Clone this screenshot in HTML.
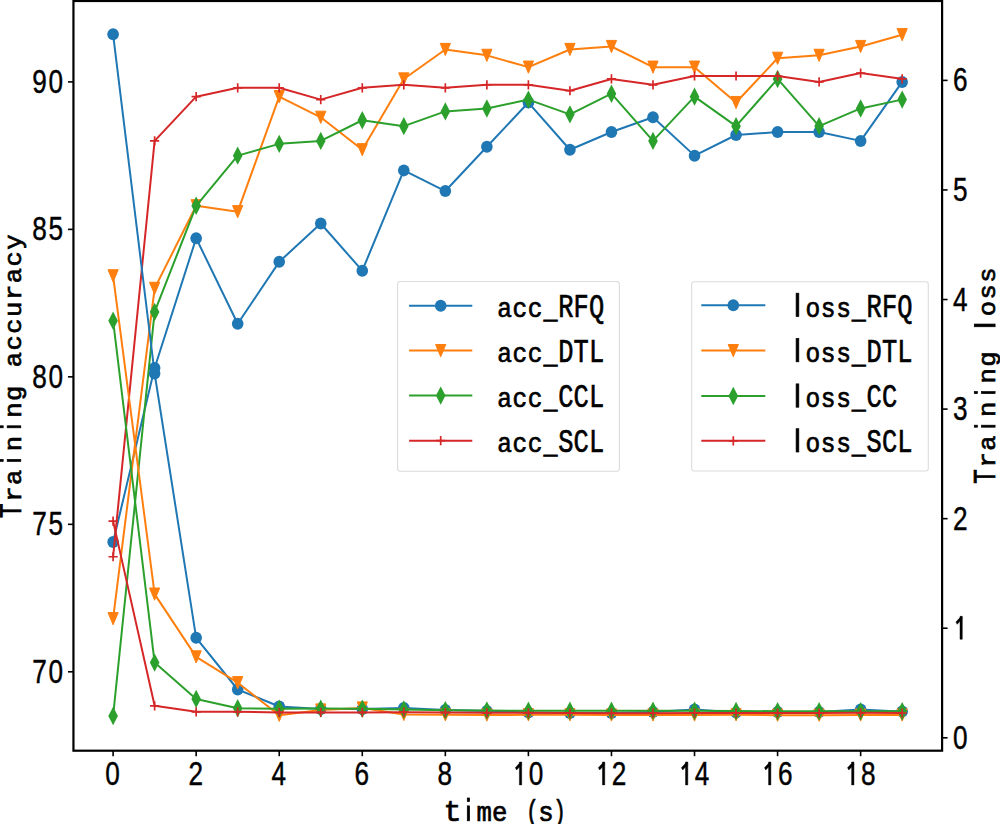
<!DOCTYPE html>
<html><head><meta charset="utf-8"><title>Training accuracy and loss</title>
<style>html,body{margin:0;padding:0;background:#fff;overflow:hidden}svg{display:block}</style>
</head><body>
<svg width="1000" height="824" viewBox="0 0 1000 824">
<rect width="1000" height="824" fill="#fff"/>
<defs><clipPath id="ax"><rect x="73.45" y="1.0" width="868.65" height="749.70"/></clipPath></defs>
<g clip-path="url(#ax)">
<path d="M113.10,542.02L154.63,368.00L196.16,238.22L237.69,323.76L279.22,261.82L320.75,223.48L362.28,270.67L403.81,170.38L445.34,191.03L486.87,146.79L528.40,102.55L569.93,149.74L611.46,132.04L652.99,117.29L694.52,155.64L736.05,134.99L777.58,132.04L819.11,132.04L860.64,140.89L902.17,81.90" stroke="#1f77b4" stroke-width="2.0" fill="none" stroke-linejoin="round" stroke-linecap="square"/><ellipse cx="113.10" cy="542.02" rx="5.8" ry="6.0" fill="#1f77b4"/><ellipse cx="154.63" cy="368.00" rx="5.8" ry="6.0" fill="#1f77b4"/><ellipse cx="196.16" cy="238.22" rx="5.8" ry="6.0" fill="#1f77b4"/><ellipse cx="237.69" cy="323.76" rx="5.8" ry="6.0" fill="#1f77b4"/><ellipse cx="279.22" cy="261.82" rx="5.8" ry="6.0" fill="#1f77b4"/><ellipse cx="320.75" cy="223.48" rx="5.8" ry="6.0" fill="#1f77b4"/><ellipse cx="362.28" cy="270.67" rx="5.8" ry="6.0" fill="#1f77b4"/><ellipse cx="403.81" cy="170.38" rx="5.8" ry="6.0" fill="#1f77b4"/><ellipse cx="445.34" cy="191.03" rx="5.8" ry="6.0" fill="#1f77b4"/><ellipse cx="486.87" cy="146.79" rx="5.8" ry="6.0" fill="#1f77b4"/><ellipse cx="528.40" cy="102.55" rx="5.8" ry="6.0" fill="#1f77b4"/><ellipse cx="569.93" cy="149.74" rx="5.8" ry="6.0" fill="#1f77b4"/><ellipse cx="611.46" cy="132.04" rx="5.8" ry="6.0" fill="#1f77b4"/><ellipse cx="652.99" cy="117.29" rx="5.8" ry="6.0" fill="#1f77b4"/><ellipse cx="694.52" cy="155.64" rx="5.8" ry="6.0" fill="#1f77b4"/><ellipse cx="736.05" cy="134.99" rx="5.8" ry="6.0" fill="#1f77b4"/><ellipse cx="777.58" cy="132.04" rx="5.8" ry="6.0" fill="#1f77b4"/><ellipse cx="819.11" cy="132.04" rx="5.8" ry="6.0" fill="#1f77b4"/><ellipse cx="860.64" cy="140.89" rx="5.8" ry="6.0" fill="#1f77b4"/><ellipse cx="902.17" cy="81.90" rx="5.8" ry="6.0" fill="#1f77b4"/><path d="M113.10,618.71L154.63,288.37L196.16,205.78L237.69,211.68L279.22,96.65L320.75,117.29L362.28,149.74L403.81,78.95L445.34,49.46L486.87,55.35L528.40,67.15L569.93,49.46L611.46,46.51L652.99,67.15L694.52,67.15L736.05,102.55L777.58,58.30L819.11,55.35L860.64,46.51L902.17,34.71" stroke="#ff7f0e" stroke-width="2.0" fill="none" stroke-linejoin="round" stroke-linecap="square"/><path d="M108.00,612.61L118.20,612.61L113.10,624.81Z" fill="#ff7f0e" stroke="#ff7f0e" stroke-width="1" stroke-linejoin="miter"/><path d="M149.53,282.26L159.73,282.26L154.63,294.47Z" fill="#ff7f0e" stroke="#ff7f0e" stroke-width="1" stroke-linejoin="miter"/><path d="M191.06,199.68L201.26,199.68L196.16,211.88Z" fill="#ff7f0e" stroke="#ff7f0e" stroke-width="1" stroke-linejoin="miter"/><path d="M232.59,205.58L242.79,205.58L237.69,217.78Z" fill="#ff7f0e" stroke="#ff7f0e" stroke-width="1" stroke-linejoin="miter"/><path d="M274.12,90.55L284.32,90.55L279.22,102.75Z" fill="#ff7f0e" stroke="#ff7f0e" stroke-width="1" stroke-linejoin="miter"/><path d="M315.65,111.19L325.85,111.19L320.75,123.39Z" fill="#ff7f0e" stroke="#ff7f0e" stroke-width="1" stroke-linejoin="miter"/><path d="M357.18,143.64L367.38,143.64L362.28,155.84Z" fill="#ff7f0e" stroke="#ff7f0e" stroke-width="1" stroke-linejoin="miter"/><path d="M398.71,72.85L408.91,72.85L403.81,85.05Z" fill="#ff7f0e" stroke="#ff7f0e" stroke-width="1" stroke-linejoin="miter"/><path d="M440.24,43.36L450.44,43.36L445.34,55.56Z" fill="#ff7f0e" stroke="#ff7f0e" stroke-width="1" stroke-linejoin="miter"/><path d="M481.77,49.25L491.97,49.25L486.87,61.45Z" fill="#ff7f0e" stroke="#ff7f0e" stroke-width="1" stroke-linejoin="miter"/><path d="M523.30,61.05L533.50,61.05L528.40,73.25Z" fill="#ff7f0e" stroke="#ff7f0e" stroke-width="1" stroke-linejoin="miter"/><path d="M564.83,43.36L575.03,43.36L569.93,55.56Z" fill="#ff7f0e" stroke="#ff7f0e" stroke-width="1" stroke-linejoin="miter"/><path d="M606.36,40.41L616.56,40.41L611.46,52.61Z" fill="#ff7f0e" stroke="#ff7f0e" stroke-width="1" stroke-linejoin="miter"/><path d="M647.89,61.05L658.09,61.05L652.99,73.25Z" fill="#ff7f0e" stroke="#ff7f0e" stroke-width="1" stroke-linejoin="miter"/><path d="M689.42,61.05L699.62,61.05L694.52,73.25Z" fill="#ff7f0e" stroke="#ff7f0e" stroke-width="1" stroke-linejoin="miter"/><path d="M730.95,96.45L741.15,96.45L736.05,108.65Z" fill="#ff7f0e" stroke="#ff7f0e" stroke-width="1" stroke-linejoin="miter"/><path d="M772.48,52.20L782.68,52.20L777.58,64.40Z" fill="#ff7f0e" stroke="#ff7f0e" stroke-width="1" stroke-linejoin="miter"/><path d="M814.01,49.25L824.21,49.25L819.11,61.45Z" fill="#ff7f0e" stroke="#ff7f0e" stroke-width="1" stroke-linejoin="miter"/><path d="M855.54,40.41L865.74,40.41L860.64,52.61Z" fill="#ff7f0e" stroke="#ff7f0e" stroke-width="1" stroke-linejoin="miter"/><path d="M897.07,28.61L907.27,28.61L902.17,40.81Z" fill="#ff7f0e" stroke="#ff7f0e" stroke-width="1" stroke-linejoin="miter"/><path d="M113.10,716.04L154.63,311.96L196.16,205.78L237.69,155.64L279.22,143.84L320.75,140.89L362.28,120.24L403.81,126.14L445.34,111.40L486.87,108.45L528.40,99.60L569.93,114.34L611.46,93.70L652.99,140.89L694.52,96.65L736.05,126.14L777.58,78.95L819.11,126.14L860.64,108.45L902.17,99.60" stroke="#2ca02c" stroke-width="2.0" fill="none" stroke-linejoin="round" stroke-linecap="square"/><path d="M113.10,706.84L117.90,716.04L113.10,725.24L108.30,716.04Z" fill="#2ca02c"/><path d="M154.63,302.76L159.43,311.96L154.63,321.16L149.83,311.96Z" fill="#2ca02c"/><path d="M196.16,196.58L200.96,205.78L196.16,214.98L191.36,205.78Z" fill="#2ca02c"/><path d="M237.69,146.44L242.49,155.64L237.69,164.84L232.89,155.64Z" fill="#2ca02c"/><path d="M279.22,134.64L284.02,143.84L279.22,153.04L274.42,143.84Z" fill="#2ca02c"/><path d="M320.75,131.69L325.55,140.89L320.75,150.09L315.95,140.89Z" fill="#2ca02c"/><path d="M362.28,111.04L367.08,120.24L362.28,129.44L357.48,120.24Z" fill="#2ca02c"/><path d="M403.81,116.94L408.61,126.14L403.81,135.34L399.01,126.14Z" fill="#2ca02c"/><path d="M445.34,102.20L450.14,111.40L445.34,120.60L440.54,111.40Z" fill="#2ca02c"/><path d="M486.87,99.25L491.67,108.45L486.87,117.65L482.07,108.45Z" fill="#2ca02c"/><path d="M528.40,90.40L533.20,99.60L528.40,108.80L523.60,99.60Z" fill="#2ca02c"/><path d="M569.93,105.14L574.73,114.34L569.93,123.54L565.13,114.34Z" fill="#2ca02c"/><path d="M611.46,84.50L616.26,93.70L611.46,102.90L606.66,93.70Z" fill="#2ca02c"/><path d="M652.99,131.69L657.79,140.89L652.99,150.09L648.19,140.89Z" fill="#2ca02c"/><path d="M694.52,87.45L699.32,96.65L694.52,105.85L689.72,96.65Z" fill="#2ca02c"/><path d="M736.05,116.94L740.85,126.14L736.05,135.34L731.25,126.14Z" fill="#2ca02c"/><path d="M777.58,69.75L782.38,78.95L777.58,88.15L772.78,78.95Z" fill="#2ca02c"/><path d="M819.11,116.94L823.91,126.14L819.11,135.34L814.31,126.14Z" fill="#2ca02c"/><path d="M860.64,99.25L865.44,108.45L860.64,117.65L855.84,108.45Z" fill="#2ca02c"/><path d="M902.17,90.40L906.97,99.60L902.17,108.80L897.37,99.60Z" fill="#2ca02c"/><path d="M113.10,556.77L154.63,140.89L196.16,96.65L237.69,87.80L279.22,87.80L320.75,99.60L362.28,87.80L403.81,84.85L445.34,87.80L486.87,84.85L528.40,84.85L569.93,90.75L611.46,78.95L652.99,84.85L694.52,76.00L736.05,76.00L777.58,76.00L819.11,81.90L860.64,73.05L902.17,78.95" stroke="#d62728" stroke-width="2.0" fill="none" stroke-linejoin="round" stroke-linecap="square"/><path d="M108.50,556.77H117.70M113.10,552.17V561.37" stroke="#d62728" stroke-width="1.7" fill="none"/><path d="M150.03,140.89H159.23M154.63,136.29V145.49" stroke="#d62728" stroke-width="1.7" fill="none"/><path d="M191.56,96.65H200.76M196.16,92.05V101.25" stroke="#d62728" stroke-width="1.7" fill="none"/><path d="M233.09,87.80H242.29M237.69,83.20V92.40" stroke="#d62728" stroke-width="1.7" fill="none"/><path d="M274.62,87.80H283.82M279.22,83.20V92.40" stroke="#d62728" stroke-width="1.7" fill="none"/><path d="M316.15,99.60H325.35M320.75,95.00V104.20" stroke="#d62728" stroke-width="1.7" fill="none"/><path d="M357.68,87.80H366.88M362.28,83.20V92.40" stroke="#d62728" stroke-width="1.7" fill="none"/><path d="M399.21,84.85H408.41M403.81,80.25V89.45" stroke="#d62728" stroke-width="1.7" fill="none"/><path d="M440.74,87.80H449.94M445.34,83.20V92.40" stroke="#d62728" stroke-width="1.7" fill="none"/><path d="M482.27,84.85H491.47M486.87,80.25V89.45" stroke="#d62728" stroke-width="1.7" fill="none"/><path d="M523.80,84.85H533.00M528.40,80.25V89.45" stroke="#d62728" stroke-width="1.7" fill="none"/><path d="M565.33,90.75H574.53M569.93,86.15V95.35" stroke="#d62728" stroke-width="1.7" fill="none"/><path d="M606.86,78.95H616.06M611.46,74.35V83.55" stroke="#d62728" stroke-width="1.7" fill="none"/><path d="M648.39,84.85H657.59M652.99,80.25V89.45" stroke="#d62728" stroke-width="1.7" fill="none"/><path d="M689.92,76.00H699.12M694.52,71.40V80.60" stroke="#d62728" stroke-width="1.7" fill="none"/><path d="M731.45,76.00H740.65M736.05,71.40V80.60" stroke="#d62728" stroke-width="1.7" fill="none"/><path d="M772.98,76.00H782.18M777.58,71.40V80.60" stroke="#d62728" stroke-width="1.7" fill="none"/><path d="M814.51,81.90H823.71M819.11,77.30V86.50" stroke="#d62728" stroke-width="1.7" fill="none"/><path d="M856.04,73.05H865.24M860.64,68.45V77.65" stroke="#d62728" stroke-width="1.7" fill="none"/><path d="M897.57,78.95H906.77M902.17,74.35V83.55" stroke="#d62728" stroke-width="1.7" fill="none"/><path d="M113.10,34.30L154.63,373.50L196.16,637.80L237.69,689.50L279.22,706.50L320.75,709.00L362.28,709.00L403.81,708.00L445.34,710.00L486.87,711.00L528.40,712.50L569.93,713.00L611.46,713.00L652.99,712.00L694.52,709.50L736.05,712.50L777.58,712.00L819.11,712.00L860.64,709.50L902.17,711.60" stroke="#1f77b4" stroke-width="2.0" fill="none" stroke-linejoin="round" stroke-linecap="square"/><ellipse cx="113.10" cy="34.30" rx="5.8" ry="6.0" fill="#1f77b4"/><ellipse cx="154.63" cy="373.50" rx="5.8" ry="6.0" fill="#1f77b4"/><ellipse cx="196.16" cy="637.80" rx="5.8" ry="6.0" fill="#1f77b4"/><ellipse cx="237.69" cy="689.50" rx="5.8" ry="6.0" fill="#1f77b4"/><ellipse cx="279.22" cy="706.50" rx="5.8" ry="6.0" fill="#1f77b4"/><ellipse cx="320.75" cy="709.00" rx="5.8" ry="6.0" fill="#1f77b4"/><ellipse cx="362.28" cy="709.00" rx="5.8" ry="6.0" fill="#1f77b4"/><ellipse cx="403.81" cy="708.00" rx="5.8" ry="6.0" fill="#1f77b4"/><ellipse cx="445.34" cy="710.00" rx="5.8" ry="6.0" fill="#1f77b4"/><ellipse cx="486.87" cy="711.00" rx="5.8" ry="6.0" fill="#1f77b4"/><ellipse cx="528.40" cy="712.50" rx="5.8" ry="6.0" fill="#1f77b4"/><ellipse cx="569.93" cy="713.00" rx="5.8" ry="6.0" fill="#1f77b4"/><ellipse cx="611.46" cy="713.00" rx="5.8" ry="6.0" fill="#1f77b4"/><ellipse cx="652.99" cy="712.00" rx="5.8" ry="6.0" fill="#1f77b4"/><ellipse cx="694.52" cy="709.50" rx="5.8" ry="6.0" fill="#1f77b4"/><ellipse cx="736.05" cy="712.50" rx="5.8" ry="6.0" fill="#1f77b4"/><ellipse cx="777.58" cy="712.00" rx="5.8" ry="6.0" fill="#1f77b4"/><ellipse cx="819.11" cy="712.00" rx="5.8" ry="6.0" fill="#1f77b4"/><ellipse cx="860.64" cy="709.50" rx="5.8" ry="6.0" fill="#1f77b4"/><ellipse cx="902.17" cy="711.60" rx="5.8" ry="6.0" fill="#1f77b4"/><path d="M113.10,275.80L154.63,594.10L196.16,656.90L237.69,682.70L279.22,715.30L320.75,710.00L362.28,708.00L403.81,714.50L445.34,714.80L486.87,715.00L528.40,714.80L569.93,714.80L611.46,715.00L652.99,715.00L694.52,715.00L736.05,714.80L777.58,715.20L819.11,715.20L860.64,715.00L902.17,715.00" stroke="#ff7f0e" stroke-width="2.0" fill="none" stroke-linejoin="round" stroke-linecap="square"/><path d="M108.00,269.70L118.20,269.70L113.10,281.90Z" fill="#ff7f0e" stroke="#ff7f0e" stroke-width="1" stroke-linejoin="miter"/><path d="M149.53,588.00L159.73,588.00L154.63,600.20Z" fill="#ff7f0e" stroke="#ff7f0e" stroke-width="1" stroke-linejoin="miter"/><path d="M191.06,650.80L201.26,650.80L196.16,663.00Z" fill="#ff7f0e" stroke="#ff7f0e" stroke-width="1" stroke-linejoin="miter"/><path d="M232.59,676.60L242.79,676.60L237.69,688.80Z" fill="#ff7f0e" stroke="#ff7f0e" stroke-width="1" stroke-linejoin="miter"/><path d="M274.12,709.20L284.32,709.20L279.22,721.40Z" fill="#ff7f0e" stroke="#ff7f0e" stroke-width="1" stroke-linejoin="miter"/><path d="M315.65,703.90L325.85,703.90L320.75,716.10Z" fill="#ff7f0e" stroke="#ff7f0e" stroke-width="1" stroke-linejoin="miter"/><path d="M357.18,701.90L367.38,701.90L362.28,714.10Z" fill="#ff7f0e" stroke="#ff7f0e" stroke-width="1" stroke-linejoin="miter"/><path d="M398.71,708.40L408.91,708.40L403.81,720.60Z" fill="#ff7f0e" stroke="#ff7f0e" stroke-width="1" stroke-linejoin="miter"/><path d="M440.24,708.70L450.44,708.70L445.34,720.90Z" fill="#ff7f0e" stroke="#ff7f0e" stroke-width="1" stroke-linejoin="miter"/><path d="M481.77,708.90L491.97,708.90L486.87,721.10Z" fill="#ff7f0e" stroke="#ff7f0e" stroke-width="1" stroke-linejoin="miter"/><path d="M523.30,708.70L533.50,708.70L528.40,720.90Z" fill="#ff7f0e" stroke="#ff7f0e" stroke-width="1" stroke-linejoin="miter"/><path d="M564.83,708.70L575.03,708.70L569.93,720.90Z" fill="#ff7f0e" stroke="#ff7f0e" stroke-width="1" stroke-linejoin="miter"/><path d="M606.36,708.90L616.56,708.90L611.46,721.10Z" fill="#ff7f0e" stroke="#ff7f0e" stroke-width="1" stroke-linejoin="miter"/><path d="M647.89,708.90L658.09,708.90L652.99,721.10Z" fill="#ff7f0e" stroke="#ff7f0e" stroke-width="1" stroke-linejoin="miter"/><path d="M689.42,708.90L699.62,708.90L694.52,721.10Z" fill="#ff7f0e" stroke="#ff7f0e" stroke-width="1" stroke-linejoin="miter"/><path d="M730.95,708.70L741.15,708.70L736.05,720.90Z" fill="#ff7f0e" stroke="#ff7f0e" stroke-width="1" stroke-linejoin="miter"/><path d="M772.48,709.10L782.68,709.10L777.58,721.30Z" fill="#ff7f0e" stroke="#ff7f0e" stroke-width="1" stroke-linejoin="miter"/><path d="M814.01,709.10L824.21,709.10L819.11,721.30Z" fill="#ff7f0e" stroke="#ff7f0e" stroke-width="1" stroke-linejoin="miter"/><path d="M855.54,708.90L865.74,708.90L860.64,721.10Z" fill="#ff7f0e" stroke="#ff7f0e" stroke-width="1" stroke-linejoin="miter"/><path d="M897.07,708.90L907.27,708.90L902.17,721.10Z" fill="#ff7f0e" stroke="#ff7f0e" stroke-width="1" stroke-linejoin="miter"/><path d="M113.10,320.70L154.63,662.60L196.16,698.90L237.69,708.20L279.22,708.80L320.75,708.60L362.28,708.80L403.81,709.50L445.34,710.30L486.87,710.50L528.40,710.80L569.93,710.80L611.46,710.80L652.99,710.80L694.52,710.80L736.05,711.00L777.58,711.20L819.11,711.20L860.64,711.20L902.17,711.20" stroke="#2ca02c" stroke-width="2.0" fill="none" stroke-linejoin="round" stroke-linecap="square"/><path d="M113.10,311.50L117.90,320.70L113.10,329.90L108.30,320.70Z" fill="#2ca02c"/><path d="M154.63,653.40L159.43,662.60L154.63,671.80L149.83,662.60Z" fill="#2ca02c"/><path d="M196.16,689.70L200.96,698.90L196.16,708.10L191.36,698.90Z" fill="#2ca02c"/><path d="M237.69,699.00L242.49,708.20L237.69,717.40L232.89,708.20Z" fill="#2ca02c"/><path d="M279.22,699.60L284.02,708.80L279.22,718.00L274.42,708.80Z" fill="#2ca02c"/><path d="M320.75,699.40L325.55,708.60L320.75,717.80L315.95,708.60Z" fill="#2ca02c"/><path d="M362.28,699.60L367.08,708.80L362.28,718.00L357.48,708.80Z" fill="#2ca02c"/><path d="M403.81,700.30L408.61,709.50L403.81,718.70L399.01,709.50Z" fill="#2ca02c"/><path d="M445.34,701.10L450.14,710.30L445.34,719.50L440.54,710.30Z" fill="#2ca02c"/><path d="M486.87,701.30L491.67,710.50L486.87,719.70L482.07,710.50Z" fill="#2ca02c"/><path d="M528.40,701.60L533.20,710.80L528.40,720.00L523.60,710.80Z" fill="#2ca02c"/><path d="M569.93,701.60L574.73,710.80L569.93,720.00L565.13,710.80Z" fill="#2ca02c"/><path d="M611.46,701.60L616.26,710.80L611.46,720.00L606.66,710.80Z" fill="#2ca02c"/><path d="M652.99,701.60L657.79,710.80L652.99,720.00L648.19,710.80Z" fill="#2ca02c"/><path d="M694.52,701.60L699.32,710.80L694.52,720.00L689.72,710.80Z" fill="#2ca02c"/><path d="M736.05,701.80L740.85,711.00L736.05,720.20L731.25,711.00Z" fill="#2ca02c"/><path d="M777.58,702.00L782.38,711.20L777.58,720.40L772.78,711.20Z" fill="#2ca02c"/><path d="M819.11,702.00L823.91,711.20L819.11,720.40L814.31,711.20Z" fill="#2ca02c"/><path d="M860.64,702.00L865.44,711.20L860.64,720.40L855.84,711.20Z" fill="#2ca02c"/><path d="M902.17,702.00L906.97,711.20L902.17,720.40L897.37,711.20Z" fill="#2ca02c"/><path d="M113.10,521.10L154.63,705.80L196.16,711.80L237.69,711.80L279.22,712.40L320.75,712.40L362.28,712.40L403.81,712.20L445.34,712.60L486.87,712.80L528.40,712.80L569.93,713.00L611.46,713.20L652.99,713.20L694.52,713.00L736.05,713.00L777.58,713.00L819.11,713.00L860.64,712.80L902.17,713.00" stroke="#d62728" stroke-width="2.0" fill="none" stroke-linejoin="round" stroke-linecap="square"/><path d="M108.50,521.10H117.70M113.10,516.50V525.70" stroke="#d62728" stroke-width="1.7" fill="none"/><path d="M150.03,705.80H159.23M154.63,701.20V710.40" stroke="#d62728" stroke-width="1.7" fill="none"/><path d="M191.56,711.80H200.76M196.16,707.20V716.40" stroke="#d62728" stroke-width="1.7" fill="none"/><path d="M233.09,711.80H242.29M237.69,707.20V716.40" stroke="#d62728" stroke-width="1.7" fill="none"/><path d="M274.62,712.40H283.82M279.22,707.80V717.00" stroke="#d62728" stroke-width="1.7" fill="none"/><path d="M316.15,712.40H325.35M320.75,707.80V717.00" stroke="#d62728" stroke-width="1.7" fill="none"/><path d="M357.68,712.40H366.88M362.28,707.80V717.00" stroke="#d62728" stroke-width="1.7" fill="none"/><path d="M399.21,712.20H408.41M403.81,707.60V716.80" stroke="#d62728" stroke-width="1.7" fill="none"/><path d="M440.74,712.60H449.94M445.34,708.00V717.20" stroke="#d62728" stroke-width="1.7" fill="none"/><path d="M482.27,712.80H491.47M486.87,708.20V717.40" stroke="#d62728" stroke-width="1.7" fill="none"/><path d="M523.80,712.80H533.00M528.40,708.20V717.40" stroke="#d62728" stroke-width="1.7" fill="none"/><path d="M565.33,713.00H574.53M569.93,708.40V717.60" stroke="#d62728" stroke-width="1.7" fill="none"/><path d="M606.86,713.20H616.06M611.46,708.60V717.80" stroke="#d62728" stroke-width="1.7" fill="none"/><path d="M648.39,713.20H657.59M652.99,708.60V717.80" stroke="#d62728" stroke-width="1.7" fill="none"/><path d="M689.92,713.00H699.12M694.52,708.40V717.60" stroke="#d62728" stroke-width="1.7" fill="none"/><path d="M731.45,713.00H740.65M736.05,708.40V717.60" stroke="#d62728" stroke-width="1.7" fill="none"/><path d="M772.98,713.00H782.18M777.58,708.40V717.60" stroke="#d62728" stroke-width="1.7" fill="none"/><path d="M814.51,713.00H823.71M819.11,708.40V717.60" stroke="#d62728" stroke-width="1.7" fill="none"/><path d="M856.04,712.80H865.24M860.64,708.20V717.40" stroke="#d62728" stroke-width="1.7" fill="none"/><path d="M897.57,713.00H906.77M902.17,708.40V717.60" stroke="#d62728" stroke-width="1.7" fill="none"/>
</g>
<rect x="397.6" y="281.5" width="221.80" height="189.80" rx="2.5" ry="2.5" fill="#fff" fill-opacity="0.8" stroke="#dcdcdc" stroke-width="1.1"/><path d="M409.1,305.7H472.3" stroke="#1f77b4" stroke-width="2.0"/><ellipse cx="440.70" cy="305.70" rx="5.8" ry="6.0" fill="#1f77b4"/><path d="M409.1,350.6H472.3" stroke="#ff7f0e" stroke-width="2.0"/><path d="M435.60,344.50L445.80,344.50L440.70,356.70Z" fill="#ff7f0e" stroke="#ff7f0e" stroke-width="1" stroke-linejoin="miter"/><path d="M409.1,395.6H472.3" stroke="#2ca02c" stroke-width="2.0"/><path d="M440.70,386.40L445.50,395.60L440.70,404.80L435.90,395.60Z" fill="#2ca02c"/><path d="M409.1,440.7H472.3" stroke="#d62728" stroke-width="2.0"/><path d="M436.10,440.70H445.30M440.70,436.10V445.30" stroke="#d62728" stroke-width="1.7" fill="none"/>
<rect x="691.7" y="281.7" width="236.60" height="189.30" rx="2.5" ry="2.5" fill="#fff" fill-opacity="0.8" stroke="#dcdcdc" stroke-width="1.1"/><path d="M701.3,305.3H765.3" stroke="#1f77b4" stroke-width="2.0"/><ellipse cx="733.30" cy="305.30" rx="5.8" ry="6.0" fill="#1f77b4"/><path d="M701.3,350.6H765.3" stroke="#ff7f0e" stroke-width="2.0"/><path d="M728.20,344.50L738.40,344.50L733.30,356.70Z" fill="#ff7f0e" stroke="#ff7f0e" stroke-width="1" stroke-linejoin="miter"/><path d="M701.3,396.0H765.3" stroke="#2ca02c" stroke-width="2.0"/><path d="M733.30,386.80L738.10,396.00L733.30,405.20L728.50,396.00Z" fill="#2ca02c"/><path d="M701.3,440.8H765.3" stroke="#d62728" stroke-width="2.0"/><path d="M728.70,440.80H737.90M733.30,436.20V445.40" stroke="#d62728" stroke-width="1.7" fill="none"/>
<rect x="73.45" y="1.0" width="868.65" height="749.70" fill="none" stroke="#000" stroke-width="2.2"/>
<path d="M67.95,671.80H73.45" stroke="#000" stroke-width="1.6"/><path d="M67.95,524.33H73.45" stroke="#000" stroke-width="1.6"/><path d="M67.95,376.85H73.45" stroke="#000" stroke-width="1.6"/><path d="M67.95,229.38H73.45" stroke="#000" stroke-width="1.6"/><path d="M67.95,81.90H73.45" stroke="#000" stroke-width="1.6"/><path d="M942.1,737.80H947.60" stroke="#000" stroke-width="1.6"/><path d="M942.1,628.23H947.60" stroke="#000" stroke-width="1.6"/><path d="M942.1,518.66H947.60" stroke="#000" stroke-width="1.6"/><path d="M942.1,409.09H947.60" stroke="#000" stroke-width="1.6"/><path d="M942.1,299.52H947.60" stroke="#000" stroke-width="1.6"/><path d="M942.1,189.95H947.60" stroke="#000" stroke-width="1.6"/><path d="M942.1,80.38H947.60" stroke="#000" stroke-width="1.6"/><path d="M113.10,750.7V756.20" stroke="#000" stroke-width="1.6"/><path d="M196.16,750.7V756.20" stroke="#000" stroke-width="1.6"/><path d="M279.22,750.7V756.20" stroke="#000" stroke-width="1.6"/><path d="M362.28,750.7V756.20" stroke="#000" stroke-width="1.6"/><path d="M445.34,750.7V756.20" stroke="#000" stroke-width="1.6"/><path d="M528.40,750.7V756.20" stroke="#000" stroke-width="1.6"/><path d="M611.46,750.7V756.20" stroke="#000" stroke-width="1.6"/><path d="M694.52,750.7V756.20" stroke="#000" stroke-width="1.6"/><path d="M777.58,750.7V756.20" stroke="#000" stroke-width="1.6"/><path d="M860.64,750.7V756.20" stroke="#000" stroke-width="1.6"/>
<g style="font-family:&quot;Liberation Sans&quot;,sans-serif;font-size:34px" fill="#000" stroke="#000" stroke-width="0.45">
<text transform="translate(32.22,682.60) scale(0.77,1)">7</text><text transform="translate(48.42,682.60) scale(0.77,1)">0</text><text transform="translate(32.22,535.12) scale(0.77,1)">7</text><text transform="translate(48.42,535.12) scale(0.77,1)">5</text><text transform="translate(32.22,387.65) scale(0.77,1)">8</text><text transform="translate(48.42,387.65) scale(0.77,1)">0</text><text transform="translate(32.22,240.18) scale(0.77,1)">8</text><text transform="translate(48.42,240.18) scale(0.77,1)">5</text><text transform="translate(32.22,92.70) scale(0.77,1)">9</text><text transform="translate(48.42,92.70) scale(0.77,1)">0</text><text transform="translate(953.12,748.80) scale(0.77,1)">0</text><path d="M960.00,616.33H962.30V639.23H960.00ZM961.20,616.33L962.30,618.73L957.20,624.33L955.90,622.03Z"/><text transform="translate(953.12,529.66) scale(0.77,1)">2</text><text transform="translate(953.12,420.09) scale(0.77,1)">3</text><text transform="translate(953.12,310.52) scale(0.77,1)">4</text><text transform="translate(953.12,200.95) scale(0.77,1)">5</text><text transform="translate(953.12,91.38) scale(0.77,1)">6</text><text transform="translate(105.32,784.90) scale(0.77,1)">0</text><text transform="translate(188.38,784.90) scale(0.77,1)">2</text><text transform="translate(271.44,784.90) scale(0.77,1)">4</text><text transform="translate(354.50,784.90) scale(0.77,1)">6</text><text transform="translate(437.56,784.90) scale(0.77,1)">8</text><path d="M519.40,762.00H521.70V784.90H519.40ZM520.60,762.00L521.70,764.40L516.60,770.00L515.30,767.70Z"/><text transform="translate(528.72,784.90) scale(0.77,1)">0</text><path d="M602.46,762.00H604.76V784.90H602.46ZM603.66,762.00L604.76,764.40L599.66,770.00L598.36,767.70Z"/><text transform="translate(611.78,784.90) scale(0.77,1)">2</text><path d="M685.52,762.00H687.82V784.90H685.52ZM686.72,762.00L687.82,764.40L682.72,770.00L681.42,767.70Z"/><text transform="translate(694.84,784.90) scale(0.77,1)">4</text><path d="M768.58,762.00H770.88V784.90H768.58ZM769.78,762.00L770.88,764.40L765.78,770.00L764.48,767.70Z"/><text transform="translate(777.90,784.90) scale(0.77,1)">6</text><path d="M851.64,762.00H853.94V784.90H851.64ZM852.84,762.00L853.94,764.40L848.84,770.00L847.54,767.70Z"/><text transform="translate(860.96,784.90) scale(0.77,1)">8</text>
</g>
<g fill="#000" stroke="#000" stroke-width="0.7" text-anchor="middle" style="font-family:&quot;Liberation Mono&quot;,monospace">
<text transform="translate(452.48,820.80) scale(1.0,1)" font-size="30">t</text><rect x="467.28" y="805.90" width="2.3" height="14.9"/><rect x="467.28" y="798.00" width="2.3" height="3.6"/><text transform="translate(484.28,820.80) scale(0.93,1)" font-size="27.6">m</text><text transform="translate(499.58,820.80) scale(0.93,1)" font-size="27.6">e</text><text transform="translate(532.38,820.80) scale(0.72,1)" font-size="30">(</text><text transform="translate(545.98,820.80) scale(0.93,1)" font-size="27.6">s</text><text transform="translate(559.58,820.80) scale(0.72,1)" font-size="30">)</text><g transform="translate(20.8,376.4) rotate(-90)"><text transform="translate(-134.40,0.00) scale(0.81,1)" font-size="30.5">T</text><text transform="translate(-117.60,0.00) scale(1.05,1)" font-size="24.4">r</text><text transform="translate(-100.80,0.00) scale(1.05,1)" font-size="24.4">a</text><rect x="-85.00" y="-13.60" width="2.0" height="13.6"/><rect x="-85.00" y="-20.80" width="2.0" height="3.2"/><text transform="translate(-67.20,0.00) scale(1.05,1)" font-size="24.4">n</text><rect x="-51.40" y="-13.60" width="2.0" height="13.6"/><rect x="-51.40" y="-20.80" width="2.0" height="3.2"/><text transform="translate(-33.60,0.00) scale(1.05,1)" font-size="24.4">n</text><text transform="translate(-16.80,0.00) scale(1.05,1)" font-size="24.4">g</text><text transform="translate(16.80,0.00) scale(1.05,1)" font-size="24.4">a</text><text transform="translate(33.60,0.00) scale(1.05,1)" font-size="24.4">c</text><text transform="translate(50.40,0.00) scale(1.05,1)" font-size="24.4">c</text><text transform="translate(67.20,0.00) scale(1.05,1)" font-size="24.4">u</text><text transform="translate(84.00,0.00) scale(1.05,1)" font-size="24.4">r</text><text transform="translate(100.80,0.00) scale(1.05,1)" font-size="24.4">a</text><text transform="translate(117.60,0.00) scale(1.05,1)" font-size="24.4">c</text><text transform="translate(134.40,0.00) scale(1.05,1)" font-size="24.4">y</text></g><g transform="translate(995.1,375.8) rotate(-90)"><text transform="translate(-100.80,0.00) scale(0.81,1)" font-size="30.5">T</text><text transform="translate(-84.00,0.00) scale(1.05,1)" font-size="24.4">r</text><text transform="translate(-67.20,0.00) scale(1.05,1)" font-size="24.4">a</text><rect x="-51.40" y="-13.60" width="2.0" height="13.6"/><rect x="-51.40" y="-20.80" width="2.0" height="3.2"/><text transform="translate(-33.60,0.00) scale(1.05,1)" font-size="24.4">n</text><rect x="-17.80" y="-13.60" width="2.0" height="13.6"/><rect x="-17.80" y="-20.80" width="2.0" height="3.2"/><text transform="translate(0.00,0.00) scale(1.05,1)" font-size="24.4">n</text><text transform="translate(16.80,0.00) scale(1.05,1)" font-size="24.4">g</text><rect x="49.05" y="-20.80" width="2.7" height="20.8"/><text transform="translate(67.20,0.00) scale(1.05,1)" font-size="24.4">o</text><text transform="translate(84.00,0.00) scale(1.05,1)" font-size="24.4">s</text><text transform="translate(100.80,0.00) scale(1.05,1)" font-size="24.4">s</text></g><text transform="translate(504.48,316.90) scale(0.87,1)" font-size="28.2">a</text><text transform="translate(519.83,316.90) scale(0.87,1)" font-size="28.2">c</text><text transform="translate(535.17,316.90) scale(0.87,1)" font-size="28.2">c</text><text transform="translate(550.52,318.10) scale(0.78,1)" font-size="30">_</text><text transform="translate(565.88,316.90) scale(0.76,1)" font-size="33.4">R</text><text transform="translate(581.23,316.90) scale(0.76,1)" font-size="33.4">F</text><text transform="translate(596.58,316.90) scale(0.76,1)" font-size="33.4">Q</text><text transform="translate(504.48,361.80) scale(0.87,1)" font-size="28.2">a</text><text transform="translate(519.83,361.80) scale(0.87,1)" font-size="28.2">c</text><text transform="translate(535.17,361.80) scale(0.87,1)" font-size="28.2">c</text><text transform="translate(550.52,363.00) scale(0.78,1)" font-size="30">_</text><text transform="translate(565.88,361.80) scale(0.76,1)" font-size="33.4">D</text><text transform="translate(581.23,361.80) scale(0.76,1)" font-size="33.4">T</text><text transform="translate(596.58,361.80) scale(0.76,1)" font-size="33.4">L</text><text transform="translate(504.48,406.80) scale(0.87,1)" font-size="28.2">a</text><text transform="translate(519.83,406.80) scale(0.87,1)" font-size="28.2">c</text><text transform="translate(535.17,406.80) scale(0.87,1)" font-size="28.2">c</text><text transform="translate(550.52,408.00) scale(0.78,1)" font-size="30">_</text><text transform="translate(565.88,406.80) scale(0.76,1)" font-size="33.4">C</text><text transform="translate(581.23,406.80) scale(0.76,1)" font-size="33.4">C</text><text transform="translate(596.58,406.80) scale(0.76,1)" font-size="33.4">L</text><text transform="translate(504.48,451.90) scale(0.87,1)" font-size="28.2">a</text><text transform="translate(519.83,451.90) scale(0.87,1)" font-size="28.2">c</text><text transform="translate(535.17,451.90) scale(0.87,1)" font-size="28.2">c</text><text transform="translate(550.52,453.10) scale(0.78,1)" font-size="30">_</text><text transform="translate(565.88,451.90) scale(0.76,1)" font-size="33.4">S</text><text transform="translate(581.23,451.90) scale(0.76,1)" font-size="33.4">C</text><text transform="translate(596.58,451.90) scale(0.76,1)" font-size="33.4">L</text><rect x="796.12" y="293.20" width="2.7" height="23.3"/><text transform="translate(812.82,316.50) scale(0.87,1)" font-size="28.2">o</text><text transform="translate(828.17,316.50) scale(0.87,1)" font-size="28.2">s</text><text transform="translate(843.52,316.50) scale(0.87,1)" font-size="28.2">s</text><text transform="translate(858.88,317.70) scale(0.78,1)" font-size="30">_</text><text transform="translate(874.22,316.50) scale(0.76,1)" font-size="33.4">R</text><text transform="translate(889.57,316.50) scale(0.76,1)" font-size="33.4">F</text><text transform="translate(904.92,316.50) scale(0.76,1)" font-size="33.4">Q</text><rect x="796.12" y="338.50" width="2.7" height="23.3"/><text transform="translate(812.82,361.80) scale(0.87,1)" font-size="28.2">o</text><text transform="translate(828.17,361.80) scale(0.87,1)" font-size="28.2">s</text><text transform="translate(843.52,361.80) scale(0.87,1)" font-size="28.2">s</text><text transform="translate(858.88,363.00) scale(0.78,1)" font-size="30">_</text><text transform="translate(874.22,361.80) scale(0.76,1)" font-size="33.4">D</text><text transform="translate(889.57,361.80) scale(0.76,1)" font-size="33.4">T</text><text transform="translate(904.92,361.80) scale(0.76,1)" font-size="33.4">L</text><rect x="796.12" y="383.90" width="2.7" height="23.3"/><text transform="translate(812.82,407.20) scale(0.87,1)" font-size="28.2">o</text><text transform="translate(828.17,407.20) scale(0.87,1)" font-size="28.2">s</text><text transform="translate(843.52,407.20) scale(0.87,1)" font-size="28.2">s</text><text transform="translate(858.88,408.40) scale(0.78,1)" font-size="30">_</text><text transform="translate(874.22,407.20) scale(0.76,1)" font-size="33.4">C</text><text transform="translate(889.57,407.20) scale(0.76,1)" font-size="33.4">C</text><rect x="796.12" y="428.70" width="2.7" height="23.3"/><text transform="translate(812.82,452.00) scale(0.87,1)" font-size="28.2">o</text><text transform="translate(828.17,452.00) scale(0.87,1)" font-size="28.2">s</text><text transform="translate(843.52,452.00) scale(0.87,1)" font-size="28.2">s</text><text transform="translate(858.88,453.20) scale(0.78,1)" font-size="30">_</text><text transform="translate(874.22,452.00) scale(0.76,1)" font-size="33.4">S</text><text transform="translate(889.57,452.00) scale(0.76,1)" font-size="33.4">C</text><text transform="translate(904.92,452.00) scale(0.76,1)" font-size="33.4">L</text>
</g>
</svg>
</body></html>
